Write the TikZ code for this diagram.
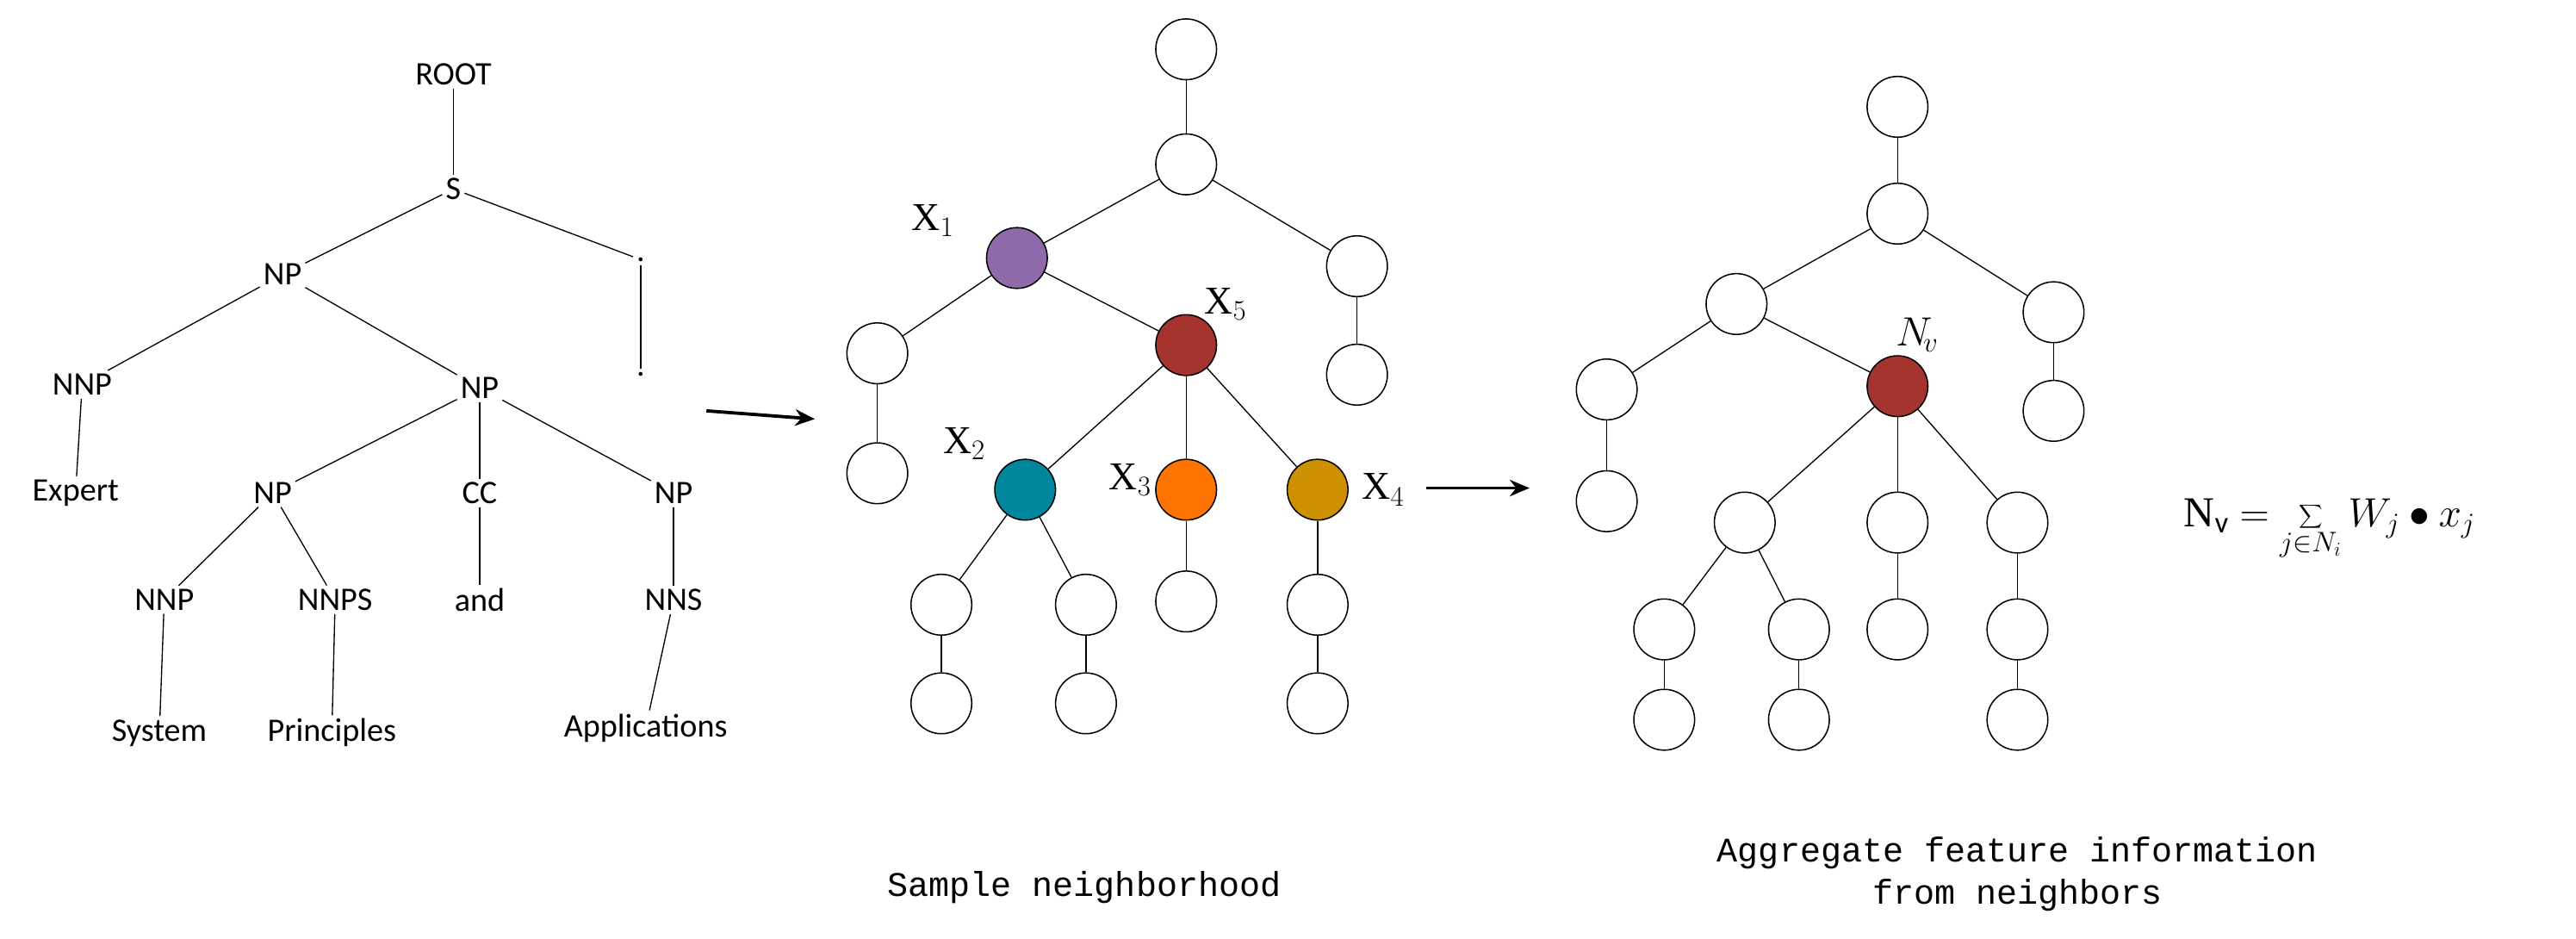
\documentclass[tikz,border=0pt]{standalone}
\usetikzlibrary{arrows.meta}
\usepackage{fontspec}
\setmainfont{Carlito}
\newfontfamily\serf{Liberation Serif}
\newfontfamily\mono{Liberation Mono}
\definecolor{cpur}{HTML}{8E6AAA}
\definecolor{cred}{HTML}{A5342E}
\definecolor{ctea}{HTML}{00879E}
\definecolor{cora}{HTML}{FF7300}
\definecolor{cgol}{HTML}{CC9000}
\begin{document}
\begin{tikzpicture}[x=1pt,y=-1pt,
  w/.style={font=\fontsize{20}{22}\selectfont, inner sep=2pt},
  c/.style={circle, draw, line width=0.8pt, minimum size=37pt, inner sep=0pt},
  lb/.style={font=\serf\fontsize{24}{26}\selectfont},
  e/.style={line width=0.7pt},
  arr/.style={line width=2pt,-{Stealth[length=12pt,width=10pt]}}]
\useasboundingbox (0,0) rectangle (1568,571);
% tree 1
\node[w] (root) at (276,45) {ROOT};
\node[w] (s) at (276,115) {S};
\node[w] (np1) at (172,167) {NP};
\node[w] (d1) at (390,158) {.};
\node[w] (d2) at (390,228) {.};
\node[w] (nnp1) at (50,234) {NNP};
\node[w] (np2) at (292,236) {NP};
\node[w] (exp) at (46,300) {Expert};
\node[w] (np3) at (166,300) {NP};
\node[w] (cc) at (292,300) {CC};
\node[w] (np4) at (410,300) {NP};
\node[w] (nnp2) at (100,365) {NNP};
\node[w] (nnps) at (204,365) {NNPS};
\node[w] (and) at (292,365) {and};
\node[w] (nns) at (410,365) {NNS};
\node[w] (sys) at (97,446) {System};
\node[w] (pri) at (202,446) {Principles};
\node[w] (app) at (393,443) {Applications};
\foreach \a/\b in {root/s,s/np1,s/d1,d1/d2,np1/nnp1,np1/np2,nnp1/exp,np2/np3,np2/cc,np2/np4,np3/nnp2,np3/nnps,cc/and,np4/nns,nnp2/sys,nnps/pri,nns/app}
  \draw[e] (\a) -- (\b);
\coordinate (a1s) at (430,250); \coordinate (a1e) at (496,255);
\draw[arr] (a1s) -- (a1e);
% tree 2
\node[c] (t0) at (722,30) {};
\node[c] (t1) at (722,100) {};
\node[c,fill=cpur] (x1) at (619,157) {};
\node[c] (r1) at (826,162) {};
\node[c] (l1) at (534,215) {};
\node[c,fill=cred] (x5) at (722,210) {};
\node[c] (r2) at (826,228) {};
\node[c] (l2) at (534,288) {};
\node[c,fill=ctea] (x2) at (624,298) {};
\node[c,fill=cora] (x3) at (722,298) {};
\node[c,fill=cgol] (x4) at (802,298) {};
\node[c] (a1) at (573,368) {};
\node[c] (b1) at (661,368) {};
\node[c] (c1) at (722,366) {};
\node[c] (d1c) at (802,368) {};
\node[c] (a2) at (573,428) {};
\node[c] (b2) at (661,428) {};
\node[c] (d2c) at (802,428) {};
\foreach \a/\b in {t0/t1,t1/x1,t1/r1,x1/l1,x1/x5,l1/l2,r1/r2,x5/x2,x5/x3,x5/x4,x2/a1,x2/b1,x3/c1,x4/d1c,a1/a2,b1/b2,d1c/d2c}
  \draw[e] (\a) -- (\b);
\node[lb] at (568,134) {X$_1$};
\node[lb] at (746,185) {X$_5$};
\node[lb] at (587,270) {X$_2$};
\node[lb] at (688,292) {X$_3$};
\node[lb] at (842,298) {X$_4$};
\coordinate (a2s) at (868,297); \coordinate (a2e) at (931,297);
\draw[arr] (a2s) -- (a2e);
% tree 3
\node[c] (u0) at (1155,65) {};
\node[c] (u1) at (1155,130) {};
\node[c] (ul) at (1057,185) {};
\node[c] (ur) at (1250,190) {};
\node[c] (ull) at (978,237) {};
\node[c,fill=cred] (nv) at (1155,235) {};
\node[c] (ur2) at (1250,250) {};
\node[c] (ull2) at (978,305) {};
\node[c] (p1) at (1062,318) {};
\node[c] (p2) at (1155,318) {};
\node[c] (p3) at (1228,318) {};
\node[c] (q1) at (1013,383) {};
\node[c] (q2) at (1095,383) {};
\node[c] (q3) at (1155,383) {};
\node[c] (q4) at (1228,383) {};
\node[c] (s1) at (1013,438) {};
\node[c] (s2) at (1095,438) {};
\node[c] (s4) at (1228,438) {};
\foreach \a/\b in {u0/u1,u1/ul,u1/ur,ul/ull,ul/nv,ull/ull2,ur/ur2,nv/p1,nv/p2,nv/p3,p1/q1,p1/q2,p2/q3,p3/q4,q4/s4,q1/s1,q2/s2}
  \draw[e] (\a) -- (\b);
\node[font=\serf\fontsize{26}{28}\selectfont] at (1167,204) {$N_{\!v}$};
\node[font=\serf\fontsize{26}{28}\selectfont] (f) at (1418,322) {N$_{\mathrm{v}}$ $=$ $\displaystyle\sum_{j\in N_i} W_j \bullet x_j$};
\node[font=\mono\fontsize{21}{26}\selectfont] (cap1) at (660,540) {Sample neighborhood};
\node[font=\mono\fontsize{21}{26}\selectfont, align=center] (cap2) at (1228,532) {Aggregate feature information\\from neighbors};
\end{tikzpicture}
\end{document}
